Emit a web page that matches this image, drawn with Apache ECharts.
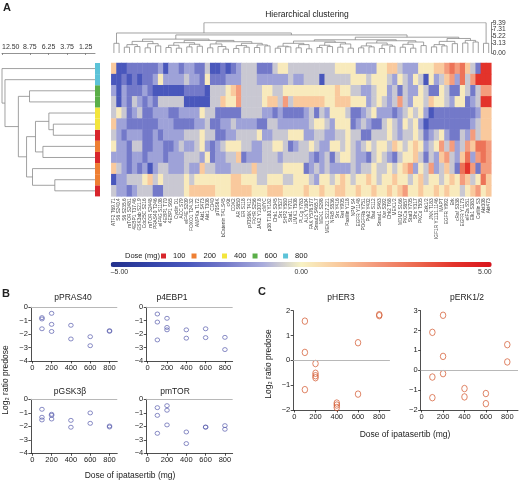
<!DOCTYPE html>
<html><head><meta charset="utf-8">
<script src="https://cdn.jsdelivr.net/npm/echarts@6/dist/echarts.min.js"></script>
<style>html,body{margin:0;padding:0;background:#fff}#c{width:520px;height:481px}</style>
</head><body><div id="c"></div>
<script>
// ---------- DATA ----------
const columnLabels = ['ATF2 T69.71','S6 S240.4','S6 S235.6','mTOR S2481','4EBP1 T37.46','GSK3ab S21.9','Cdc25C S216','mTOR S2448','PRAS40 T246','eIF4G S1108','4EBP1 T70','4EBP1 S65','Cyclin D1','ACC S79','eIF4E S209','FOXO1 T24.32','AMPKa T172','Akt1 S473','Akt1 T308','CD40','p70S6K','bCatenin T41.S45','cKit','CDK2','AR S650','ER S118','p70S6K T412','FKHR S256','JAK2 Y1007.8','cMYC','p38 T180.Y182','Chk1 S345','Src Y527','SHP2 Y580','Stat1 Y701','LIMK1 T508','PLCg Y783','ALK Y1604','FAK Y576.577','Smad2 S465.7','MEK1 S298','MEK1 S217.221','NFkB S536','Src Y416','Ret Y905','Paxillin Y118','NPM S4','EGFR Y1148','PDGFRb Y751','Pyk2 Y402','Bad S112','Smad1 S463','Ksr S392','Chk2 T68','MEK1/2','MDM2 S166','PKCa S657','Stat3 Y705','Shc Y317','PKCd T505','Erk1/2','JNK T183','IGF1R Y1131.1146','MAPT','EGFR Y992','Erk','cRaf S338','EGFR Y1173','eIF2a S51','Elk1 S383','Cofilin S3','Akt308','Akt473'];

const heatRow0 = [1,-3,-3,-2,-2,-2,-2,-2,-2,-1.2,-3,-1.2,-1.2,-2,-1.2,-1.2,-2,-2,-0.6,-3,-3,-2,-3,-2,-1.2,-0.6,-0.6,-0.6,-2,-2,-2,-0.6,0.2,0.2,-0.6,-0.6,-0.6,
 -0.6,-0.6,-0.6,-0.6,-0.6,-0.6,0.2,0.2,0.2,0.2,-1.2,-1.2,-1.2,-1.2,0.2,0.2,1,1,-0.6,-1.2,-1.2,-1.2,0.2,0.2,0.2,1,1,1.9,2.8,1.9,2.8,1,-0.6,-2,4,4];
const heatRow1 = [-3,-3,-2,-3,-2,-3,-2,-2,-1.2,0.2,-1.2,-1.2,-1.2,-1.2,-0.6,-1.2,-1.2,-2,0.2,-2,-2,-2,-1.2,-1.2,-1.2,-0.6,-0.6,-0.6,-1.2,-1.2,-1.2,-1.2,-1.2,-1.2,-0.6,-1.2,-1.2,
 -0.6,-0.6,-0.6,-3,-0.6,-0.6,-0.6,-0.6,-0.6,0.2,0.2,0.2,-0.6,0.2,0.2,0.2,-0.6,-1.2,0.2,-0.6,-1.2,0.2,-0.6,-3,0.2,-1.2,-0.6,1,1.9,-1.2,2.8,-0.6,1.9,4,4,4];
const heatRow2 = [-1.2,-3,-1.2,-2,-2,-2,-1.2,-2,-3,-3,-3,-3,-3,-3,-2,-2,-2,-2,-3,-0.6,-0.6,-0.6,0.2,1,1.9,-0.6,-0.6,-0.6,-0.6,0.2,0.2,-0.6,-0.6,0.2,0.2,0.2,0.2,
 0.2,0.2,0.2,0.2,0.2,0.2,1,0.2,0.2,-0.6,-0.6,-1.2,-1.2,-0.6,0.2,0.2,-1.2,-0.6,-2,-0.6,-1.2,-1.2,0.2,-0.6,-2,-2,0.2,-0.6,-2,-2,0.2,-0.6,-2,-0.6,1.9,1.9];
const heatRow3 = [-0.6,-3,-1.2,-2,-0.6,-1.2,-2,-1.2,-2,-0.6,-0.6,-0.6,-0.6,-0.6,-3,-3,-3,-3,-3,-0.6,-0.6,1,0.2,0.2,1.9,-0.6,-0.6,-0.6,-0.6,0.2,1,1,-0.6,1.9,-0.6,1,1,
 1,1,1,1,0.2,0.2,1,1,1,0.2,0.2,0.2,-1.2,-0.6,0.2,-0.6,-1.2,-0.6,1.9,-0.6,-1.2,0.2,0.2,-0.6,1,0.2,0.2,-0.6,-1.2,0.2,0.2,-2,-1.2,-0.6,4,4];
const heatRow4 = [-0.6,0.2,-0.6,-2,-1.2,-0.6,-2,-2,-1.2,-1.2,-1.2,-2,-2,-1.2,-1.2,-1.2,-1.2,0.2,-0.6,-0.6,-2,-2,-2,-2,-2,-0.6,-0.6,-0.6,-0.6,-1.2,-1.2,-2,-1.2,-2,-2,-2,-2,
 -1.2,-0.6,-2,-0.6,-1.2,0.2,0.2,0.2,-0.6,-2,-2,-1.2,-0.6,0.2,-1.2,-1.2,-1.2,-2,-1.2,-0.6,0.2,-0.6,0.2,-1.2,-3,-2,-2,-2,-2,-2,-2,-2,-2,-1.2,1,1];
const heatRow5 = [1,-1.2,-1.2,-2,-2,-2,-2,-2,-2,-1.2,-1.2,-1.2,-2,-2,-2,-2,-1.2,-1.2,-0.6,-2,-2,-1.2,-1.2,-0.6,-1.2,-1.2,-1.2,-1.2,-2,-2,-0.6,-0.6,-1.2,-1.2,-1.2,-1.2,-1.2,
 -1.2,-0.6,0.2,0.2,-0.6,-1.2,0.2,0.2,0.2,-2,-1.2,-0.6,-1.2,-2,-2,-0.6,0.2,-0.6,-1.2,0.2,-0.6,0.2,-1.2,-3,-2,-2,-2,-2,-2,-2,-2,-2,-1.2,-0.6,1,1];
const heatRow6 = [-0.6,-1.2,-2,-1.2,-1.2,-1.2,-2,-2,-1.2,-2,-1.2,-1.2,-1.2,-1.2,-0.6,-0.6,-0.6,0.2,-0.6,-0.6,-2,-2,-1.2,-1.2,-0.6,-0.6,-0.6,-0.6,0.2,-1.2,-1.2,-0.6,-0.6,-0.6,0.2,0.2,0.2,
 -1.2,-1.2,-0.6,-0.6,-1.2,-1.2,-0.6,-0.6,0.2,-0.6,-0.6,-2,-2,-0.6,-0.6,-0.6,0.2,-0.6,-1.2,-0.6,-0.6,0.2,-0.6,-2,-1.2,-0.6,0.2,-1.2,-2,-2,-0.6,-1.2,1.9,-0.6,1,1];
const heatRow7 = [0.2,-1.2,-1.2,-2,-0.6,-0.6,-2,-2,-1.2,-1.2,-2,-2,-1.2,-0.6,-1.2,-1.2,-0.6,0.2,-1.2,-2,-1.2,-0.6,0.2,0.2,0.2,-0.6,-0.6,-1.2,-1.2,-0.6,-0.6,0.2,0.2,-0.6,-2,-1.2,-0.6,
 -0.6,0.2,-0.6,-1.2,-1.2,0.2,0.2,-0.6,0.2,-0.6,-1.2,-0.6,0.2,-0.6,0.2,0.2,-0.6,1,0.2,-0.6,0.2,1,0.2,-1.2,-0.6,0.2,1.9,-0.6,1.9,-1.2,-0.6,1.9,1,2.8,2.8,1.9];
const heatRow8 = [-1.2,-1.2,-1.2,-2,-1.2,-1.2,-2,-1.2,-1.2,-1.2,-2,-1.2,-1.2,-1.2,-0.6,-0.6,-0.6,-1.2,0.2,-2,-1.2,-1.2,-0.6,-0.6,1,-2,-1.2,-1.2,-1.2,-0.6,-0.6,-0.6,-1.2,-0.6,-0.6,-0.6,-0.6,
 -0.6,-1.2,-2,-1.2,-0.6,-2,-0.6,0.2,0.2,-0.6,-1.2,-1.2,-2,-0.6,0.2,-0.6,-1.2,-2,-0.6,0.2,0.2,1,-0.6,-2,-0.6,-1.2,1,1.9,-0.6,-1.2,1,2.8,-1.2,1.9,2.8,1.9];
const heatRow9 = [1,-0.6,-1.2,-2,-1.2,-2,-1.2,-3,-1.2,-0.6,-0.6,-1.2,-1.2,-1.2,-0.6,-1.2,-1.2,1,-0.6,-0.6,-1.2,-1.2,-1.2,-0.6,-0.6,-0.6,-0.6,1,-0.6,-0.6,-0.6,-0.6,-0.6,0.2,0.2,0.2,0.2,
 -2,-1.2,-0.6,-1.2,-0.6,-1.2,-1.2,-1.2,-1.2,-0.6,-1.2,-0.6,-0.6,0.2,-0.6,-0.6,0.2,-0.6,0.2,1,1.9,-1.2,0.2,-0.6,1.9,-1.2,-0.6,1,-0.6,-2,2.8,4,1.9,-2,1.9,1.9];
const heatRow10 = [-3,-1.2,-1.2,-0.6,-0.6,-0.6,0.2,1,-0.6,0.2,-0.6,-0.6,-0.6,-0.6,0.2,-0.6,0.2,0.2,0.2,0.2,0.2,0.2,0.2,1,1,0.2,0.2,0.2,-0.6,-0.6,0.2,0.2,0.2,-0.6,-0.6,0.2,0.2,
 0.2,-0.6,-1.2,0.2,0.2,-0.6,0.2,1,0.2,-0.6,0.2,0.2,1,0.2,-0.6,0.2,0.2,1,0.2,0.2,-0.6,0.2,1,-0.6,0.2,0.2,-0.6,0.2,1,0.2,1.9,1,-0.6,0.2,2.8,1];
const heatRow11 = [-0.6,-1.2,-1.2,-2,-1.2,-0.6,-0.6,-0.6,-2,-2,-0.6,-0.6,-0.6,-0.6,0.2,1,1,1,1,1,0.2,0.2,0.2,1,1,1,1,0.2,0.2,0.2,1,1,1,0.2,0.2,0.2,0.2,
 1,0.2,0.2,1,0.2,0.2,1,1,0.2,0.2,1,0.2,0.2,1,0.2,0.2,1,0.2,1,1.9,0.2,0.2,1,0.2,0.2,1,0.2,1,0.2,0.2,-0.6,0.2,1,1.9,0.2,1];

const rowDose = [800,800,600,600,400,400,100,200,100,200,200,100];
const doseLevels = ['100','200','400','600','800'];

// dendrograms: [height, left, right]; leaves are indices
const colTree = [9.39,
  [6.2,
    [3.0, 0, 1],
    [5.6,
      [4.3,
        [3.6, [2.6,[1.8,2,3],[2.0,4,5]], [2.9,[1.6,6,7],[2.2,8,9]]],
        [3.9,
          [3.2, [2.4,[1.7,10,11],[1.5,12,13]], [2.7,[1.9,14,15],[2.1,16,17]]],
          [3.5, [2.8,[1.6,18,19],[2.0,20,[1.2,21,22]]], [3.0,[2.3,[1.4,23,24],[1.8,25,26]],[2.5,[1.7,27,28],[2.2,29,30]]]]
        ]
      ],
      [4.9,
        [4.1,
          [3.7, [3.0,[2.1,[1.5,31,32],[1.9,33,34]],[2.6,[1.6,35,36],[1.3,37,38]]], [3.3,[2.4,[1.7,39,40],[2.0,41,42]],[2.8,[1.8,43,44],[1.5,45,46]]]],
          [3.8, [3.1,[2.2,[1.6,47,48],[1.9,49,50]],[2.5,[1.4,51,52],[2.1,53,54]]], [3.4,[2.7,[1.8,55,56],[1.5,57,58]],[2.3,59,60]]]
        ],
        [4.5, [3.6,[2.6,[1.9,61,62],[2.2,63,64]],[2.9,65,66]], [3.9,[3.1,67,68],[3.4,69,70]]]
      ]
    ]
  ],
  [3.0, 71, 72]
];
const rowTree = [12.5, 0, [12.1, 1, [10.3, [8.8, 2, 3], [9.2, [8.0, [6.2, 4, [5.6, 5, 6]], [7.0, 7, 8]], [8.4, 9, [5.4, 10, 11]]]]]];
const colTreeTicks = [0, 3.13, 5.22, 7.31, 9.39];
const rowTreeTicks = [1.25, 3.75, 6.25, 8.75, 12.5];
const colorbarTicks = [-5, 0, 5];

const doseTicks = [0, 200, 400, 600, 800];
const pPRAS40 = [[100,-0.77],[100,-0.87],[100,-1.6],[200,-0.45],[200,-1.27],[200,-1.8],[400,-1.34],[400,-2.36],[600,-2.19],[600,-2.86],[800,-1.74],[800,-1.79]];
const p4EBP1 = [[100,-0.5],[100,-1.1],[100,-2.43],[200,-0.82],[200,-1.5],[200,-1.68],[400,-1.68],[400,-2.3],[600,-1.6],[600,-2.26],[800,-2.24],[800,-3.15]];
const pGSK3b = [[100,-0.74],[100,-1.33],[100,-1.53],[200,-1.11],[200,-1.19],[200,-1.46],[400,-1.56],[400,-2.07],[600,-1.01],[600,-1.78],[800,-1.98],[800,-2.05]];
const pmTOR = [[100,-0.62],[100,-1.19],[100,-2.52],[200,-0.47],[200,-0.81],[200,-1.9],[400,-2.42],[400,-3.28],[600,-2.05],[600,-2.07],[800,-1.95],[800,-2.22]];
const pHER3 = [[100,1.58],[100,0.32],[100,-1.18],[200,-0.13],[200,-0.52],[200,-0.62],[200,-0.7],[400,-1.72],[400,-1.8],[400,-1.9],[600,0.71],[600,-1.36],[800,1.84],[800,1.8]];
const pERK12 = [[100,1.91],[100,-0.34],[100,-1.38],[200,2.77],[200,0.7],[200,-0.17],[400,-0.92],[400,-1.34],[600,-1.17],[600,-1.68],[800,1.29],[800,0.42]];

// ---------- BUILD ----------
const FONT = 'Liberation Sans, Arial, Helvetica, sans-serif';
const heatRows = [heatRow0,heatRow1,heatRow2,heatRow3,heatRow4,heatRow5,heatRow6,heatRow7,heatRow8,heatRow9,heatRow10,heatRow11];
const heatData = [];
heatRows.forEach((row, r) => row.forEach((v, c) => heatData.push([c, r, v])));

function walk(node, segs) {
  if (typeof node === 'number') return {p: node, h: 0};
  const a = walk(node[1], segs), b = walk(node[2], segs);
  segs.push([[a.p, a.h], [a.p, node[0]], [b.p, node[0]], [b.p, b.h]]);
  return {p: (a.p + b.p) / 2, h: node[0]};
}
const colSegs = []; walk(colTree, colSegs);
const rowSegsRaw = []; walk(rowTree, rowSegsRaw);
const rowSegs = rowSegsRaw.map(s => s.map(([p, h]) => [h, p]));

const doseColors = {'100':'#d8262c','200':'#ee7f33','400':'#f3e53c','600':'#5aae48','800':'#5cc3d8'};

function txt(x, y, text, size, o) {
  o = o || {};
  const el = {type:'text', x:x, y:y, silent:true, style:{text:text, fontSize:size, fontFamily:FONT, fill:'#222',
    fontWeight: o.bold ? 'bold' : 'normal',
    textAlign:o.align||'center', textVerticalAlign:'middle', align:o.align||'center', verticalAlign:'middle'}};
  if (o.rotation !== undefined) el.rotation = o.rotation;
  return el;
}
const neg = v => (v < 0 ? '\u2212' + Math.abs(v) : String(v));

const grids = [
  {left:2, top:63, width:93, height:133.4},
  {left:95, top:63, width:5, height:133.4},
  {left:111.3, top:63, width:380, height:133.4},
  {left:111.3, top:22.7, width:380, height:30.3},
  {left:110.7, top:262, width:381, height:5},
  {left:30.85, top:307.3, width:86.4, height:53.7},
  {left:146.25, top:307.3, width:86.4, height:53.7},
  {left:30.85, top:399.3, width:86.4, height:54},
  {left:146.25, top:399.3, width:86.4, height:54},
  {left:293.2, top:310.7, width:96.7, height:99.3},
  {left:420.6, top:310.7, width:97.4, height:99.3}
].map(g => Object.assign({containLabel:false, outerBoundsMode:'none', show:false}, g));

const axLine = {show:true, onZero:false, lineStyle:{color:'#222', width:0.8}};
const axTick = {show:true, length:2.5, lineStyle:{color:'#222', width:0.8}};
const axLabel = {fontSize:7.5, color:'#222', margin:3, fontFamily:FONT};

function scatterX(gi, min, max) {
  return {gridIndex:gi, type:'value', min:min, max:max, axisLine:axLine,
    axisTick:Object.assign({customValues:doseTicks}, axTick),
    axisLabel:Object.assign({customValues:doseTicks}, axLabel), splitLine:{show:false}};
}
function scatterY(gi, min, max) {
  return {gridIndex:gi, type:'value', min:min, max:max, interval:1, axisLine:axLine, axisTick:axTick,
    axisLabel:Object.assign({formatter:neg}, axLabel), splitLine:{show:false}};
}
const hidden = gi => ({gridIndex:gi, type:'value', show:false});

const xAxis = [
  {gridIndex:0, type:'value', inverse:true, min:0, max:12.5, position:'top', offset:10,
    axisLine:{show:true, onZero:false, lineStyle:{color:'#777', width:0.8}},
    axisTick:{show:true, inside:true, length:2, customValues:rowTreeTicks, lineStyle:{color:'#777', width:0.8}},
    axisLabel:{customValues:rowTreeTicks, fontSize:7, color:'#333', margin:2, fontFamily:FONT, formatter:v => v.toFixed(2), alignMaxLabel:'left', showMaxLabel:true},
    splitLine:{show:false}},
  {gridIndex:1, type:'value', min:0, max:1, show:false},
  {gridIndex:2, type:'category', data:columnLabels, axisLine:{show:false}, axisTick:{show:false},
    axisLabel:{interval:0, rotate:90, fontSize:4.8, color:'#444', margin:2, fontFamily:FONT}, splitLine:{show:false}},
  {gridIndex:3, type:'value', min:-0.5, max:72.5, show:false},
  {gridIndex:4, type:'value', min:-5, max:5, axisLine:{show:false}, axisTick:{show:false},
    axisLabel:{customValues:colorbarTicks, fontSize:7, color:'#333', margin:2, fontFamily:FONT, showMinLabel:true, showMaxLabel:true,
      formatter:v => (v < 0 ? '\u2013' + Math.abs(v).toFixed(2) : v.toFixed(2)), alignMinLabel:'left', alignMaxLabel:'right'},
    splitLine:{show:false}},
  scatterX(5, -15, 880), scatterX(6, -15, 880), scatterX(7, -15, 880), scatterX(8, -15, 880),
  scatterX(9, -10, 900), scatterX(10, -10, 900)
];
const dendroLabel = {fontSize:6.6, color:'#333', margin:1.5, fontFamily:FONT, showMaxLabel:true, showMinLabel:true,
  hideOverlap:false, formatter:v => v.toFixed(2)};
function dendroLabelAxis(vals) {
  return {gridIndex:3, type:'value', min:0, max:9.39, position:'right', offset:0,
    axisLine:{show:false}, axisTick:{show:false},
    axisLabel:Object.assign({customValues:vals}, dendroLabel), splitLine:{show:false}};
}
const yAxis = [
  {gridIndex:0, type:'value', min:-0.5, max:11.5, inverse:true, show:false},
  {gridIndex:1, type:'value', min:-0.5, max:11.5, inverse:true, show:false},
  {gridIndex:2, type:'category', data:rowDose.map((d, i) => 'r' + i), inverse:true, show:false},
  {gridIndex:3, type:'value', min:0, max:9.39, position:'right',
    axisLine:{show:true, onZero:false, lineStyle:{color:'#666', width:0.8}},
    axisTick:{show:true, length:2, customValues:colTreeTicks, lineStyle:{color:'#666', width:0.8}},
    axisLabel:Object.assign({customValues:colTreeTicks.slice(0, 1)}, dendroLabel),
    splitLine:{show:false}},
  hidden(4),
  scatterY(5, -4, 0), scatterY(6, -4, 0), scatterY(7, -4, 0), scatterY(8, -4, 0),
  scatterY(9, -2, 2), scatterY(10, -2, 3),
  dendroLabelAxis(colTreeTicks.slice(1, 2)),
  dendroLabelAxis(colTreeTicks.slice(2, 3)),
  dendroLabelAxis(colTreeTicks.slice(3, 4)),
  dendroLabelAxis(colTreeTicks.slice(4, 5))
];

const zeroLine = {silent:true, symbol:['none','none'], label:{show:false}, animation:false,
  lineStyle:{color:'#b8b8b8', width:1, type:'solid'}, data:[{yAxis:0}]};
function scat(idx, data, color, size) {
  return {type:'scatter', xAxisIndex:idx, yAxisIndex:idx, data:data, symbol:'circle', symbolSize:size,
    itemStyle:{color:'rgba(0,0,0,0)', borderColor:color, borderWidth:0.9}, markLine:zeroLine, silent:true};
}

const series = [
  {type:'lines', coordinateSystem:'cartesian2d', xAxisIndex:0, yAxisIndex:0, polyline:true, silent:true,
    data:rowSegs.map(c => ({coords:c})), lineStyle:{color:'#8a8a8a', width:0.8, opacity:1}}
];
doseLevels.forEach(d => {
  series.push({type:'custom', name:d, xAxisIndex:1, yAxisIndex:1, silent:true,
    itemStyle:{color:doseColors[d]},
    data:rowDose.map((v, i) => [0, i, v]).filter(p => String(p[2]) === d),
    renderItem:function (params, api) {
      const r = api.value(1);
      const p0 = api.coord([0, r - 0.5]), p1 = api.coord([1, r + 0.5]);
      return {type:'rect', shape:{x:p0[0], y:p0[1], width:p1[0] - p0[0], height:p1[1] - p0[1]},
        style:{fill:api.visual('color')}};
    }});
});
series.push({type:'heatmap', xAxisIndex:2, yAxisIndex:2, data:heatData, silent:true, progressive:0,
  itemStyle:{borderWidth:0}});
const heatIndex = series.length - 1;
series.push({type:'lines', coordinateSystem:'cartesian2d', xAxisIndex:3, yAxisIndex:3, polyline:true, silent:true,
  data:colSegs.map(c => ({coords:c})), lineStyle:{color:'#8a8a8a', width:0.8, opacity:1}});
series.push({type:'scatter', xAxisIndex:4, yAxisIndex:4, data:[], silent:true});
[11, 12, 13, 14].forEach(yi => series.push({type:'scatter', xAxisIndex:3, yAxisIndex:yi, data:[], silent:true}));
const blue = '#5a5fae', orange = '#d2562d';
series.push(scat(5, pPRAS40, blue, [4.6, 4]));
series.push(scat(6, p4EBP1, blue, [4.6, 4]));
series.push(scat(7, pGSK3b, blue, [4.6, 4]));
series.push(scat(8, pmTOR, blue, [4.6, 4]));
series.push(scat(9, pHER3, orange, [5.5, 6.5]));
series.push(scat(10, pERK12, orange, [5.5, 6.5]));

const option = {
  animation:false,
  backgroundColor:'#fff',
  textStyle:{fontFamily:FONT},
  grid:grids, xAxis:xAxis, yAxis:yAxis, series:series,
  legend:{data:doseLevels, left:161, top:252, padding:0, itemWidth:5, itemHeight:5, itemGap:6, icon:'rect',
    selectedMode:false, textStyle:{fontSize:7.5, color:'#222', fontFamily:FONT, padding:[0,0,0,2]}},
  visualMap:{type:'continuous', min:-5, max:5, seriesIndex:heatIndex, orient:'horizontal', left:110.7, top:262,
    itemWidth:5, itemHeight:381, padding:0, calculable:false, hoverLink:false, showLabel:false,
    inRange:{color:['#23318c','#3343a8','#4957bc','#7379c9','#a9acdc','#f8f2c4','#f9c99d','#f3977a','#ec6a50','#e3332b','#d9141c']}},
  graphic:[
    txt(3, 8, 'A', 11, {align:'left', bold:true}),
    txt(2, 294, 'B', 11, {align:'left', bold:true}),
    txt(258, 292, 'C', 11, {align:'left', bold:true}),
    txt(307, 15, 'Hierarchical clustering', 8.5),
    txt(125, 256, 'Dose (mg)', 7.5, {align:'left'}),
    txt(73, 298, 'pPRAS40', 8.5),
    txt(172, 298, 'p4EBP1', 8.5),
    txt(70, 391.5, 'pGSK3\u03b2', 8.5),
    txt(175, 391.5, 'pmTOR', 8.5),
    txt(341, 298, 'pHER3', 8.5),
    txt(467, 298, 'pERK1/2', 8.5),
    txt(130, 476, 'Dose of ipatasertib (mg)', 8.5),
    txt(405, 435, 'Dose of ipatasertib (mg)', 8.5),
    txt(5.5, 380, 'Log\u2082 ratio predose', 8.5, {rotation:Math.PI / 2}),
    txt(268.5, 364, 'Log\u2082 ratio predose', 8.5, {rotation:Math.PI / 2})
  ]
};
const chart = echarts.init(document.getElementById('c'), null, {renderer:'canvas'});
chart.setOption(option);
</script></body></html>
